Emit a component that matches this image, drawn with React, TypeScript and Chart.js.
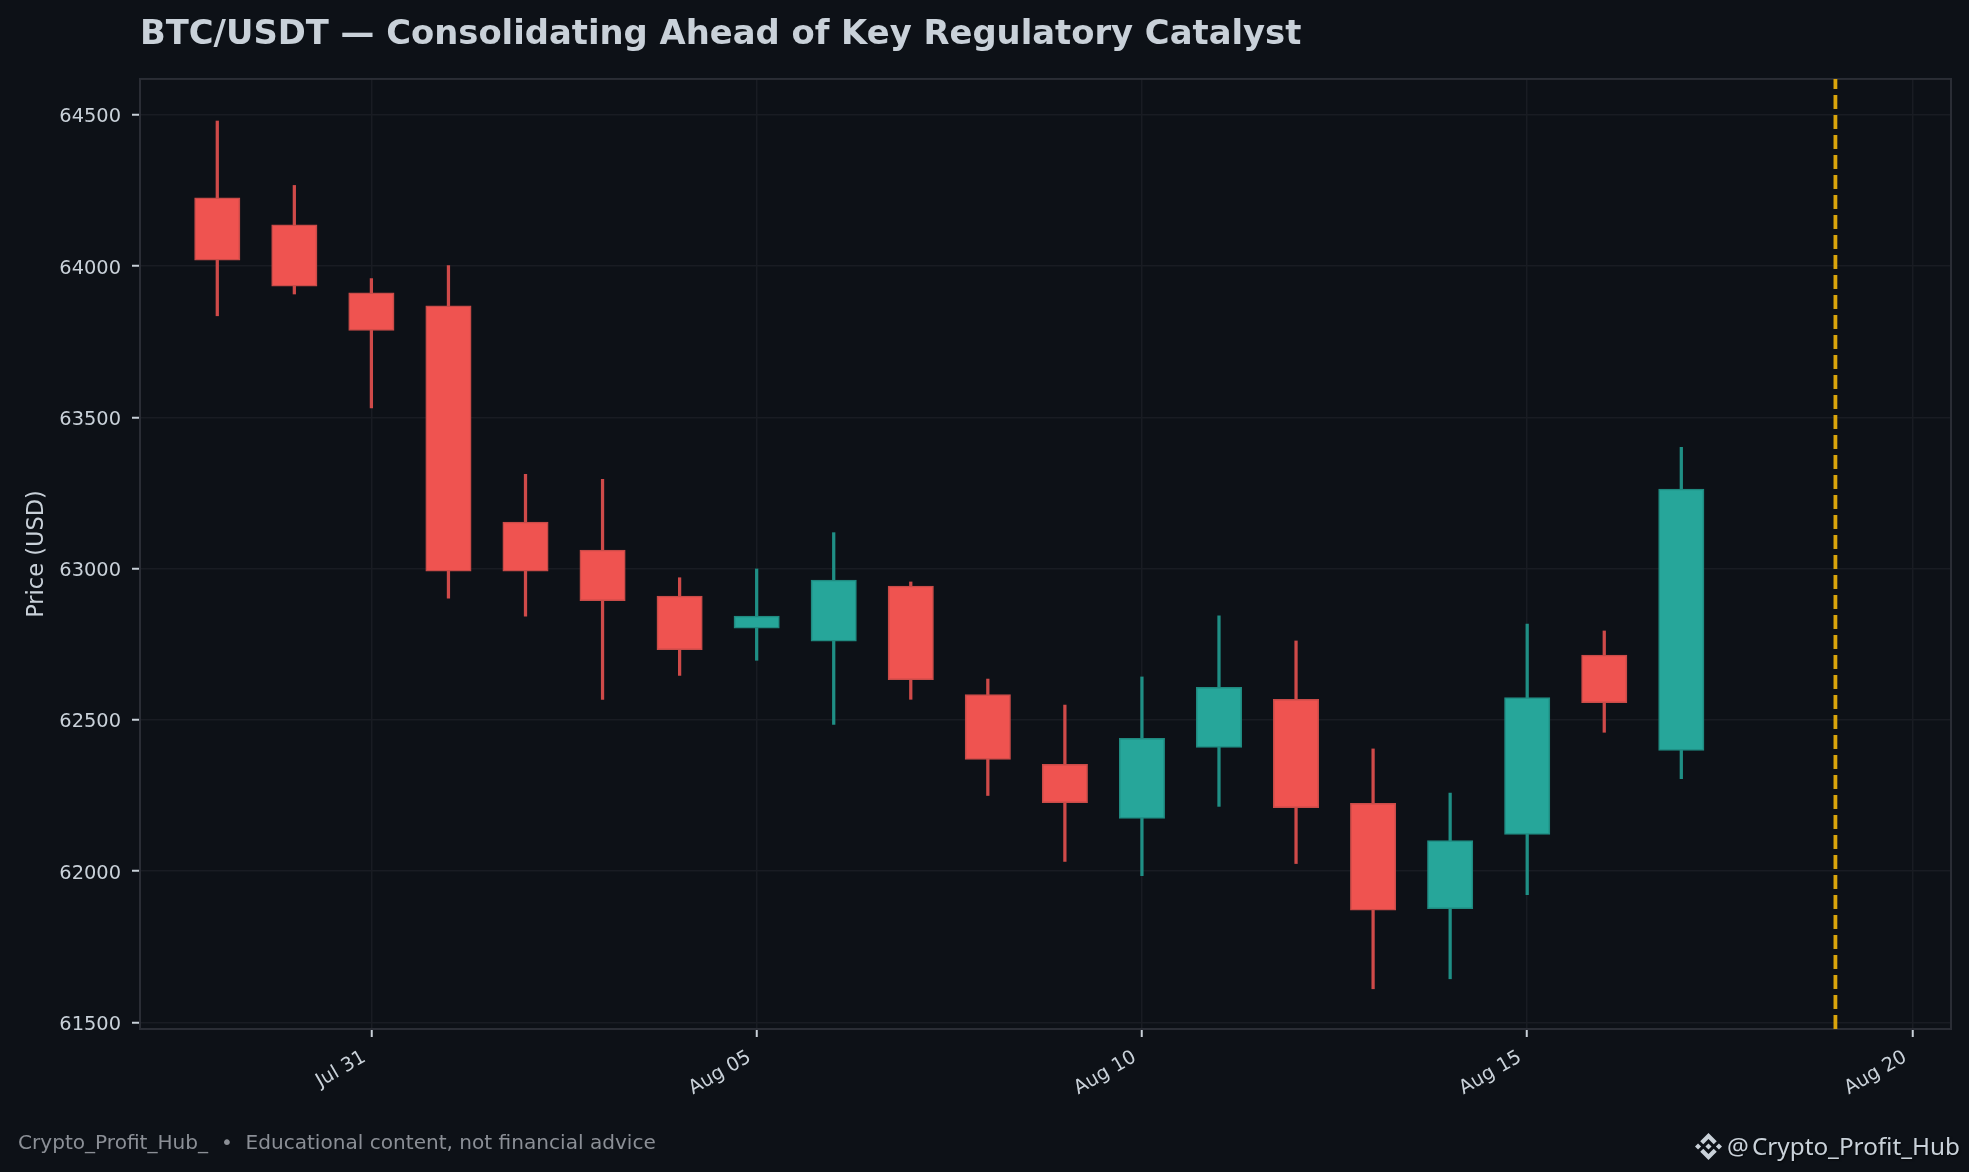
import React, { useEffect, useRef } from 'react';
import { Chart, registerables } from 'chart.js';

// Register all Chart.js components
Chart.register(...registerables);

const FONT = '"DejaVu Sans"';

// Daily candles, Jul 29 to Aug 17
const dates = [
  'Jul 29', 'Jul 30', 'Jul 31', 'Aug 01', 'Aug 02', 'Aug 03', 'Aug 04', 'Aug 05', 'Aug 06', 'Aug 07',
  'Aug 08', 'Aug 09', 'Aug 10', 'Aug 11', 'Aug 12', 'Aug 13', 'Aug 14', 'Aug 15', 'Aug 16', 'Aug 17',
];
const opens = [
  64226, 64137, 63912, 63869, 63154, 63061, 62909, 62803, 62760, 62942,
  62584, 62353, 62174, 62409, 62568, 62224, 61876, 62121, 62714, 62399,
];
const highs = [
  64480, 64267, 63959, 64002, 63312, 63295, 62970, 62999, 63119, 62956,
  62635, 62549, 62642, 62844, 62761, 62404, 62258, 62817, 62794, 63401,
];
const lows = [
  63836, 63908, 63531, 62902, 62843, 62568, 62647, 62697, 62485, 62568,
  62250, 62032, 61985, 62214, 62025, 61611, 61644, 61922, 62459, 62306,
];
const closes = [
  64020, 63934, 63788, 62992, 62992, 62894, 62732, 62843, 62962, 62633,
  62369, 62226, 62439, 62608, 62210, 61871, 62101, 62574, 62557, 63263,
];

const priceTicks = [61500, 62000, 62500, 63000, 63500, 64000, 64500];
const dateTickPositions = [2, 7, 12, 17, 22];
const dateTickLabels = ['Jul 31', 'Aug 05', 'Aug 10', 'Aug 15', 'Aug 20'];
const catalystDay = 21; // Aug 19

const X_MIN = -1.003;
const X_MAX = 22.5;
const Y_MIN = 61478;
const Y_MAX = 64619;

const isUp = (i: number) => closes[i] >= opens[i];

// Outline around the plot area, all four sides
const plotFrame = {
  id: 'plotFrame',
  beforeDatasetsDraw(chart: Chart) {
    const { ctx, chartArea } = chart;
    ctx.save();
    ctx.strokeStyle = '#2a2d35';
    ctx.lineWidth = 2;
    ctx.strokeRect(chartArea.left, chartArea.top, chartArea.right - chartArea.left, chartArea.bottom - chartArea.top);
    ctx.restore();
  },
};

const App: React.FC = () => {
  const chartRef = useRef<HTMLCanvasElement | null>(null);

  useEffect(() => {
    if (!chartRef.current) return;

    const chart = new Chart(chartRef.current, {
      type: 'bar',
      data: {
        datasets: [
          {
            label: 'Body',
            data: dates.map((_, i) => ({ x: i, y: [opens[i], closes[i]] })),
            backgroundColor: dates.map((_, i) => (isUp(i) ? '#26a69a' : '#ef5350')),
            borderColor: dates.map((_, i) => (isUp(i) ? '#1f8a80' : '#c94b48')),
            borderWidth: 1.5,
            borderSkipped: false,
            barThickness: 45.4,
            grouped: false,
            order: 2,
          },
          {
            label: 'Wick',
            data: dates.map((_, i) => ({ x: i, y: [lows[i], highs[i]] })),
            backgroundColor: dates.map((_, i) => (isUp(i) ? '#1f8f85' : '#cf4a49')),
            borderWidth: 0,
            barThickness: 2.6,
            grouped: false,
            order: 3,
          },
          {
            type: 'line',
            label: 'Catalyst',
            data: [
              { x: catalystDay, y: Y_MIN },
              { x: catalystDay, y: Y_MAX },
            ],
            borderColor: '#d9a40c',
            borderWidth: 3.8,
            borderDash: [14, 6],
            pointRadius: 0,
            order: 1,
          },
        ],
      } as any,
      options: {
        responsive: false,
        animation: false,
        devicePixelRatio: 1,
        layout: { padding: { left: 0, right: 18, top: 0, bottom: 0 } },
        plugins: {
          legend: { display: false },
          tooltip: { enabled: false },
          title: {
            display: true,
            text: 'BTC/USDT — Consolidating Ahead of Key Regulatory Catalyst',
            color: '#c9d1d9',
            align: 'start',
            fullSize: false,
            font: { family: FONT, size: 33.8, weight: 'bold' },
            padding: { top: 15, bottom: 23.4 },
          },
        },
        scales: {
          x: {
            type: 'linear',
            min: X_MIN,
            max: X_MAX,
            offset: false,
            afterBuildTicks: (scale: any) => {
              scale.ticks = dateTickPositions.map(value => ({ value }));
            },
            afterFit: (scale: any) => {
              scale.height = 143;
            },
            border: { display: false },
            grid: { offset: false, color: '#191c23', lineWidth: 1.5, tickColor: '#c9d1d9', tickWidth: 2, tickLength: 8 },
            ticks: {
              autoSkip: false,
              minRotation: 30,
              maxRotation: 30,
              padding: 9,
              labelOffset: -7,
              color: '#c9d1d9',
              font: { family: FONT, size: 19.3 },
              callback: (value: any) => dateTickLabels[dateTickPositions.indexOf(value)],
            },
          },
          y: {
            type: 'linear',
            min: Y_MIN,
            max: Y_MAX,
            afterBuildTicks: (scale: any) => {
              scale.ticks = priceTicks.map(value => ({ value }));
            },
            afterFit: (scale: any) => {
              scale.width = 140;
            },
            border: { display: false },
            grid: { color: '#191c23', lineWidth: 1.5, tickColor: '#c9d1d9', tickWidth: 2, tickLength: 8 },
            title: {
              display: true,
              text: 'Price (USD)',
              color: '#c9d1d9',
              font: { family: FONT, size: 22.5 },
              padding: { top: 24, bottom: 0 },
            },
            ticks: {
              padding: 11,
              labelOffset: 2.5,
              color: '#c9d1d9',
              font: { family: FONT, size: 19.4 },
              callback: (value: any) => String(value),
            },
          },
        },
      },
      plugins: [plotFrame],
    } as any);

    return () => {
      chart.destroy();
    };
  }, []);

  return (
    <div style={{ position: 'fixed', inset: 0, backgroundColor: '#0d1117', overflow: 'hidden' }}>
      <canvas ref={chartRef} width={1969} height={1172} style={{ display: 'block' }} />
      <div
        style={{
          position: 'absolute',
          left: 18,
          top: 1130,
          fontFamily: FONT,
          fontSize: 20.08,
          lineHeight: '24px',
          color: '#8b8f96',
          whiteSpace: 'pre',
        }}
      >
        {'Crypto_Profit_Hub_  •  Educational content, not financial advice'}
      </div>
      <div
        style={{
          position: 'absolute',
          right: 9,
          top: 1128,
          display: 'flex',
          alignItems: 'center',
          fontFamily: '"Noto Sans"',
          fontSize: 24.3,
          lineHeight: '36px',
          color: '#c9d1d9',
          textShadow: '1px 1px 2px rgba(0,0,0,0.6)',
          whiteSpace: 'pre',
        }}
      >
        <svg width={27} height={27} viewBox="0 0 24 24" style={{ marginRight: 5 }}>
          <path
            fill="#c9d1d9"
            d="M16.624 13.9202l2.7175 2.7154-7.353 7.353-7.353-7.352 2.7175-2.7164 4.6355 4.6595 4.6356-4.6595zm4.6366-4.6366L24 12l-2.7154 2.7164L18.5682 12l2.6924-2.7164zm-9.272.001l2.7163 2.6914-2.7164 2.7174v-.001L9.2721 12l2.7164-2.7154zm-9.2722-.001L5.4088 12l-2.6914 2.6924L0 12l2.7164-2.7164zM11.9885.0115l7.353 7.329-2.7174 2.7154-4.6356-4.6356-4.6355 4.6595-2.7174-2.7154 7.353-7.353z"
          />
        </svg>
        <span style={{ marginRight: 3 }}>@</span>
        {'Crypto_Profit_Hub'}
      </div>
    </div>
  );
};

export default App;
